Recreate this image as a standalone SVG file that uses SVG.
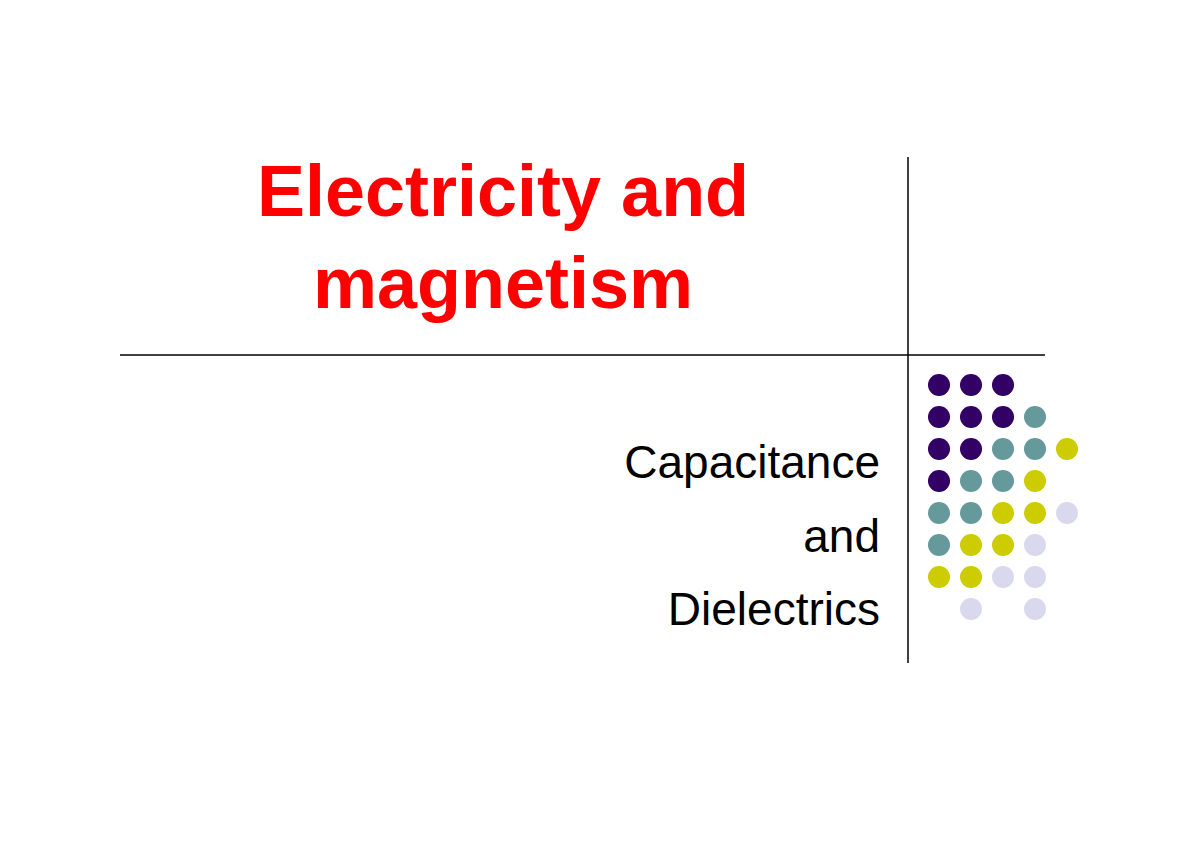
<svg xmlns="http://www.w3.org/2000/svg" width="1200" height="848" viewBox="0 0 1200 848">
<style>
.t{font-family:"Liberation Sans",Arial,sans-serif;font-weight:bold;fill:#ff0000;font-size:72px;text-anchor:middle}
.s{font-family:"Liberation Sans",Arial,sans-serif;fill:#000;font-size:46px;text-anchor:end}
.p{fill:#330066}.g{fill:#669999}.y{fill:#cccc00}.l{fill:#d9d9ee}
</style>
<rect width="1200" height="848" fill="#fff"/>
<g id="lines" stroke="#000" stroke-width="1.5">
<line x1="908" y1="157" x2="908" y2="663"/>
<line x1="120" y1="355" x2="1045" y2="355"/>
</g>
<g id="title">
<text class="t" x="503" y="216">Electricity and</text>
<text class="t" x="503" y="308">magnetism</text>
</g>
<g id="subtitle">
<text class="s" x="880" y="478">Capacitance</text>
<text class="s" x="880" y="552">and</text>
<text class="s" x="880" y="625">Dielectrics</text>
</g>
<g id="dots">
<circle class="p" cx="939" cy="385" r="11"/><circle class="p" cx="971" cy="385" r="11"/><circle class="p" cx="1003" cy="385" r="11"/>
<circle class="p" cx="939" cy="417" r="11"/><circle class="p" cx="971" cy="417" r="11"/><circle class="p" cx="1003" cy="417" r="11"/><circle class="g" cx="1035" cy="417" r="11"/>
<circle class="p" cx="939" cy="449" r="11"/><circle class="p" cx="971" cy="449" r="11"/><circle class="g" cx="1003" cy="449" r="11"/><circle class="g" cx="1035" cy="449" r="11"/><circle class="y" cx="1067" cy="449" r="11"/>
<circle class="p" cx="939" cy="481" r="11"/><circle class="g" cx="971" cy="481" r="11"/><circle class="g" cx="1003" cy="481" r="11"/><circle class="y" cx="1035" cy="481" r="11"/>
<circle class="g" cx="939" cy="513" r="11"/><circle class="g" cx="971" cy="513" r="11"/><circle class="y" cx="1003" cy="513" r="11"/><circle class="y" cx="1035" cy="513" r="11"/><circle class="l" cx="1067" cy="513" r="11"/>
<circle class="g" cx="939" cy="545" r="11"/><circle class="y" cx="971" cy="545" r="11"/><circle class="y" cx="1003" cy="545" r="11"/><circle class="l" cx="1035" cy="545" r="11"/>
<circle class="y" cx="939" cy="577" r="11"/><circle class="y" cx="971" cy="577" r="11"/><circle class="l" cx="1003" cy="577" r="11"/><circle class="l" cx="1035" cy="577" r="11"/>
<circle class="l" cx="971" cy="609" r="11"/><circle class="l" cx="1035" cy="609" r="11"/>
</g>
</svg>
